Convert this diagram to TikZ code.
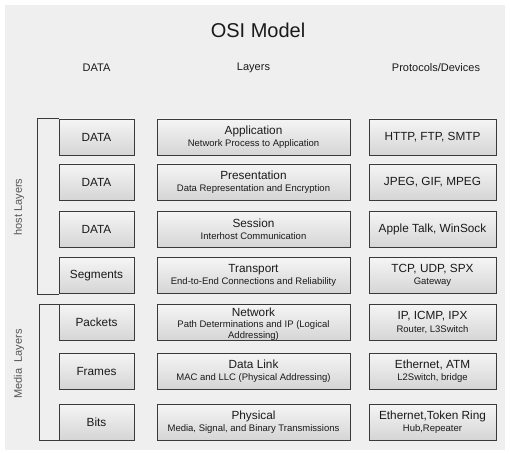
\documentclass[tikz,border=0pt]{standalone}
\usepackage{fontspec}
\setmainfont{Liberation Sans}
\definecolor{col_efefef}{RGB}{239,239,239}
\definecolor{col_f5f5f5}{RGB}{245,245,245}
\definecolor{col_d5d5d5}{RGB}{213,213,213}
\definecolor{col_3a3a3a}{RGB}{58,58,58}
\definecolor{col_1a1a1a}{RGB}{26,26,26}
\definecolor{col_555555}{RGB}{85,85,85}
\newcommand{\osifont}[1]{\fontsize{#1}{12.5}\selectfont}
\tikzset{
  osibox/.style={draw=col_3a3a3a, line width=0.9pt, top color=col_f5f5f5, bottom color=col_d5d5d5,
    minimum height=36pt, inner sep=1pt, align=center, text=col_1a1a1a, font=\osifont{11.8}},
  databox/.style={osibox, minimum width=75pt},
  layerbox/.style={osibox, minimum width=193pt},
  protobox/.style={osibox, minimum width=127pt},
  colhead/.style={text=col_1a1a1a, font=\osifont{11}},
  sidehead/.style={text=col_555555, font=\osifont{11}, rotate=90},
  bracket/.style={draw=col_3a3a3a, line width=0.9pt}
}

\begin{document}
\begin{tikzpicture}[x=1pt,y=-1pt]
\useasboundingbox (0,0) rectangle (511,454);
\fill[col_efefef] (5,5) rectangle (505,450);     %% panel
\node[text=col_1a1a1a, font=\osifont{20}] (title) at (258,30) {OSI Model};
\node[colhead] (hdata) at (96.5,68) {DATA};
\node[colhead] (hlayer) at (253.5,68) {Layers};
\node[colhead] (hproto) at (436,68) {Protocols/Devices};
%% data units
\node[databox] (d1) at (96.5,137) {DATA};
\node[databox] (d2) at (96.5,182) {DATA};
\node[databox] (d3) at (96.5,229.5) {DATA};
\node[databox] (d4) at (96.5,275.5) {Segments};
\node[databox] (d5) at (96.5,322.5) {Packets};
\node[databox] (d6) at (96.5,371) {Frames};
\node[databox] (d7) at (96.5,422) {Bits};
%% layers
\node[layerbox] (l1) at (253.5,137) {Application\\{\osifont{9.5}Network Process to Application}};
\node[layerbox] (l2) at (253.5,182) {Presentation\\{\osifont{9.5}Data Representation and Encryption}};
\node[layerbox] (l3) at (253.5,229.5) {Session\\{\osifont{9.5}Interhost Communication}};
\node[layerbox] (l4) at (253.5,275.5) {Transport\\{\osifont{9.5}End-to-End Connections and Reliability}};
\node[layerbox, inner ysep=0pt, text depth=4pt] (l5) at (253.5,322.5) {};
\node[text=col_1a1a1a, font=\osifont{11.8}, align=center, anchor=north] (l5t) at (253.5,304) {Network\\[-1pt]{\osifont{9.5}Path Determinations and IP (Logical}\\[-1.5pt]{\osifont{9.5}Addressing)}};
\node[layerbox] (l6) at (253.5,371) {Data Link\\{\osifont{9.5}MAC and LLC (Physical Addressing)}};
\node[layerbox] (l7) at (253.5,422) {Physical\\{\osifont{9.5}Media, Signal, and Binary Transmissions}};
%% protocols and devices
\node[protobox] (p1) at (432.5,137) {HTTP, FTP, SMTP};
\node[protobox] (p2) at (432.5,182) {JPEG, GIF, MPEG};
\node[protobox] (p3) at (432.5,229.5) {Apple Talk, WinSock};
\node[protobox] (p4) at (432.5,275.5) {TCP, UDP, SPX\\{\osifont{9.5}Gateway}};
\node[protobox] (p5) at (432.5,322.5) {IP, ICMP, IPX\\{\osifont{9.5}Router, L3Switch}};
\node[protobox] (p6) at (432.5,371) {Ethernet, ATM\\{\osifont{9.5}L2Switch, bridge}};
\node[protobox] (p7) at (432.5,422) {Ethernet,Token Ring\\{\osifont{9.5}Hub,Repeater}};
%% groups
\draw[bracket] (d1.north west) -- ++(-21,0) |- (d4.south west);
\draw[bracket] (d5.north west) -- ++(-19,0) |- (d7.south west);
\node[sidehead] (host) at (19,207) {host Layers};
\node[sidehead] (media) at (19,364) {Media\hspace{0.6em}Layers};
\end{tikzpicture}
\end{document}
